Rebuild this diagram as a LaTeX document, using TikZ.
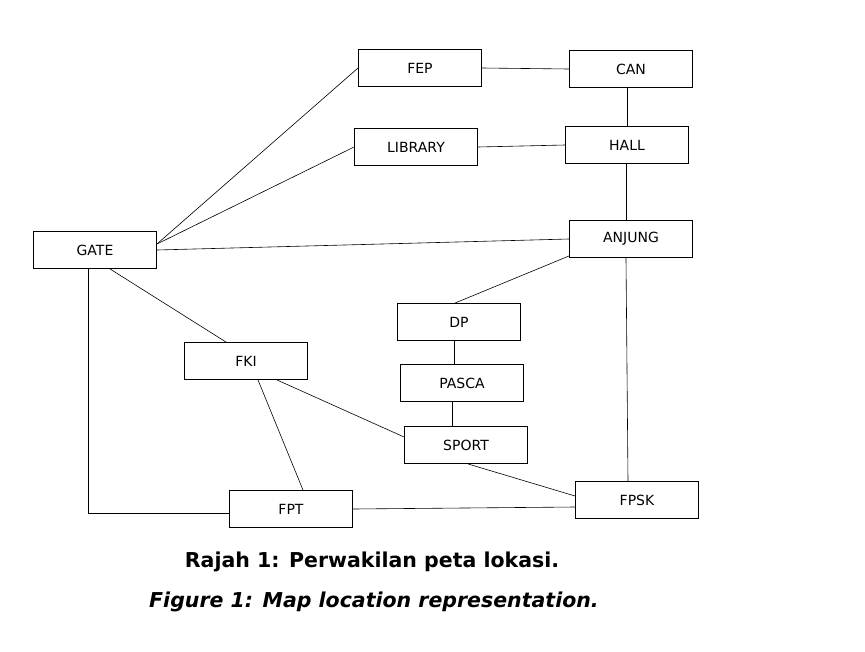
\documentclass[tikz,border=0pt]{standalone}
\usepackage{fontspec}
\setmainfont{DejaVu Sans}
\begin{document}
\begin{tikzpicture}[x=1pt,y=-1pt,
  box/.style={draw, line width=0.9pt, minimum width=123pt, minimum height=37pt, inner sep=0pt, font=\fontsize{14}{16}\selectfont},
  ln/.style={line width=0.6pt},
  captxt/.style={font=\fontsize{20.5}{24}\selectfont\bfseries}]
\path[use as bounding box] (0,0) rectangle (865,651);
\node[box] (fep) at (420,68) {FEP};
\node[box] (can) at (631,69) {CAN};
\node[box] (lib) at (416,147) {LIBRARY};
\node[box] (hall) at (627,145) {HALL};
\node[box] (gate) at (95,250) {GATE};
\node[box] (anj) at (631,239) {ANJUNG};
\node[box] (dp) at (459,322) {DP};
\node[box] (fki) at (246,361) {FKI};
\node[box] (pasca) at (462,383) {PASCA};
\node[box] (sport) at (466,445) {SPORT};
\node[box] (fpsk) at (637,500) {FPSK};
\node[box] (fpt) at (291,509) {FPT};
\draw[ln] ([yshift=6]gate.east) -- (fep.west);
\draw[ln] ([yshift=6]gate.east) -- (lib.west);
\draw[ln] (gate.east) -- (anj.west);
\draw[ln] ([xshift=15]gate.south) -- ([xshift=-20]fki.north);
\draw[ln] ([xshift=-7]gate.south) |- ([yshift=-4]fpt.west);
\draw[ln] (fep.east) -- (can.west);
\draw[ln] ([xshift=-4]can.south) -- (hall.north);
\draw[ln] (lib.east) -- (hall.west);
\draw[ln] ([xshift=-1]hall.south) -- ([xshift=-5]anj.north);
\draw[ln] ([yshift=2]anj.south west) -- ([xshift=-4]dp.north);
\draw[ln] ([xshift=-5]anj.south) -- ([xshift=-9]fpsk.north);
\draw[ln] ([xshift=-5]dp.south) -- ([xshift=-8]pasca.north);
\draw[ln] ([xshift=-10]pasca.south) -- ([xshift=-14]sport.north);
\draw[ln] ([xshift=31]fki.south) -- ([yshift=8]sport.west);
\draw[ln] ([xshift=12]fki.south) -- ([xshift=12]fpt.north);
\draw[ln] ([xshift=2]sport.south) -- ([yshift=4]fpsk.west);
\draw[ln] (fpt.east) -- ([yshift=-7]fpsk.west);
\node[captxt] (c1) at (372,562) {Rajah 1: Perwakilan peta lokasi.};
\node[captxt, font=\fontsize{20.5}{24}\selectfont\bfseries\itshape] (c2) at (374,602) {Figure 1: Map location representation.};
\end{tikzpicture}
\end{document}
